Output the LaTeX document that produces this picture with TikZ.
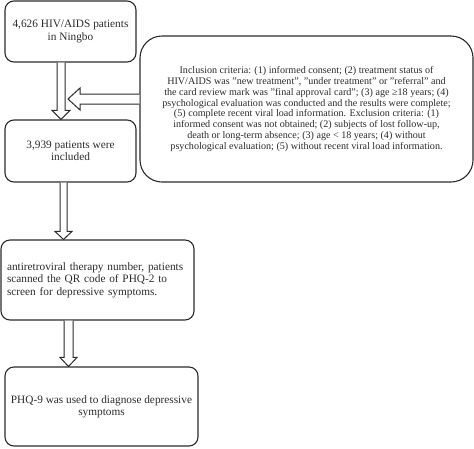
\documentclass[tikz,border=0pt]{standalone}
\usepackage{fontspec}
\setmainfont{Liberation Serif}
\usetikzlibrary{calc}
\definecolor{ink}{HTML}{2B2B2B}
\tikzset{
  box/.style={draw=ink, line width=1.1pt, rounded corners=9pt, text=ink,
    font=\fontsize{11.3}{12.3}\selectfont, align=center, inner sep=0pt},
  bigbox/.style={box, rounded corners=22pt, font=\fontsize{10.1}{10.8}\selectfont},
  blk/.style={draw=ink, line width=1pt, fill=white, line join=miter}
}
\newcommand\downblock[6]{%
  \draw[blk] let \p1=(#2.south -| #1), \p2=(#3.north -| #1) in
    (\x1-#4pt,\y1) -- (\x1-#4pt,\y2+#6pt) -- (\x1-#5pt,\y2+#6pt) -- (\x2,\y2)
    -- (\x1+#5pt,\y2+#6pt) -- (\x1+#4pt,\y2+#6pt) -- (\x1+#4pt,\y1);}
\begin{document}
\begin{tikzpicture}[x=1pt,y=-1pt]
\useasboundingbox (0,0) rectangle (474,448);
\node[box, minimum width=131pt, minimum height=61pt] (b1) at (70.5,31.5)
  {4,626 HIV/AIDS patients\\in Ningbo};
\node[box, minimum width=131pt, minimum height=62pt] (b2) at (70.5,151)
  {3,939 patients were\\included};
\node[bigbox, minimum width=333pt, minimum height=146pt] (crit) at (306.5,109)
  {Inclusion criteria: (1) informed consent; (2) treatment status of\\
   HIV/AIDS was "new treatment", "under treatment" or "referral" and\\
   the card review mark was "final approval card"; (3) age ≥18 years; (4)\\
   psychological evaluation was conducted and the results were complete;\\
   (5) complete recent viral load information. Exclusion criteria: (1)\\
   informed consent was not obtained; (2) subjects of lost follow-up,\\
   death or long-term absence; (3) age < 18 years; (4) without\\
   psychological evaluation; (5) without recent viral load information.};
\node[box, minimum width=193pt, minimum height=80pt, text width=181pt,
  inner xsep=6pt, align=left] (b3) at (97.5,280)
  {antiretroviral therapy number, patients\\scanned the QR code of PHQ-2 to\\screen for depressive symptoms.};
\node[box, minimum width=193pt, minimum height=79pt] (b4) at (101.5,406.5)
  {PHQ-9 was used to diagnose depressive\\symptoms};
\coordinate (ax1) at (61,0);
\coordinate (ax2) at (63.5,0);
\coordinate (ax3) at (68.5,0);
\downblock{ax1}{b1}{b2}{4}{9}{9}
\downblock{ax2}{b2}{b3}{3.5}{8.5}{8}
\downblock{ax3}{b3}{b4}{4.5}{8.5}{9}
\coordinate (tipL) at (68,99);
\draw[blk] let \p1=(crit.west |- tipL), \p2=(tipL) in
  (\x1,\y1+5pt) -- (\x2+12pt,\y1+5pt) -- (\x2+12pt,\y1+11pt) -- (\x2,\y2)
  -- (\x2+12pt,\y1-11pt) -- (\x2+12pt,\y1-5pt) -- (\x1,\y1-5pt);
\end{tikzpicture}
\end{document}
